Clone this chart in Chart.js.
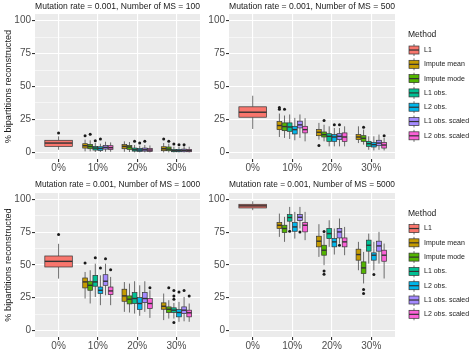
<!DOCTYPE html>
<html><head><meta charset="utf-8">
<script src="https://cdn.jsdelivr.net/npm/chart.js@4.4.1/dist/chart.umd.min.js"></script>
<style>
html,body{margin:0;padding:0;background:#fff;width:474px;height:355px;overflow:hidden;}
canvas{position:absolute;display:block;}
</style></head><body>
<canvas id="c0" width="204" height="177" style="left:0;top:0"></canvas>
<canvas id="c1" width="270" height="177" style="left:204px;top:0"></canvas>
<canvas id="c2" width="204" height="178" style="left:0;top:177px"></canvas>
<canvas id="c3" width="270" height="178" style="left:204px;top:177px"></canvas>
<script>
// ---------- DATA ----------
const categories = ['0%', '10%', '20%', '30%'];
const methods = ['L1', 'Impute mean', 'Impute mode', 'L1 obs.', 'L2 obs.', 'L1 obs. scaled', 'L2 obs. scaled'];
const panelTitles = [
  'Mutation rate = 0.001, Number of MS = 100',
  'Mutation rate = 0.001, Number of MS = 500',
  'Mutation rate = 0.001, Number of MS = 1000',
  'Mutation rate = 0.001, Number of MS = 5000'
];
const yTicks = [0, 25, 50, 75, 100];
const yAxisTitle = '% bipartitions reconstructed';
const legendTitle = 'Method';

// box stats per method (rows) and category (cols): [lower whisker, Q1, median, Q3, upper whisker]
const boxesMS100 = [
  [[2, 4.6, 7.1, 9.2, 12.2], null, null, null],
  [null, [0.8, 3.3, 5.1, 6.6, 9.7], [0.5, 2.8, 4.6, 5.9, 8.4], [0, 1.3, 2.8, 4.3, 7.1]],
  [null, [0.8, 2.8, 4.5, 6.1, 9.2], [0.3, 2.3, 4.1, 5.3, 7.9], [0, 1.3, 2.5, 4.1, 6.6]],
  [null, [0.3, 1.8, 3.3, 4.6, 7.1], [0, 1.0, 2.0, 3.3, 5.6], [0, 0.5, 1.3, 2.3, 4.3]],
  [null, [0.3, 1.5, 3.0, 4.3, 6.6], [0, 0.8, 1.8, 3.0, 5.1], [0, 0.5, 1.3, 2.3, 4.1]],
  [null, [0.5, 2.5, 3.8, 5.3, 8.1], [0, 1.0, 2.0, 3.3, 5.6], [0, 0.5, 1.5, 2.5, 4.6]],
  [null, [0.5, 2.3, 3.6, 5.1, 7.6], [0, 0.8, 1.8, 3.0, 5.3], [0, 0.5, 1.3, 2.3, 4.3]]
];
const outliersMS100 = [
  [[14.8], [], [], []],
  [[], [12.7], [], [10.2]],
  [[], [13.7], [], [8.4]],
  [[], [8.9], [8.4], [6.4]],
  [[], [10.2], [7.1], [5.9]],
  [[], [], [8.4], [5.9]],
  [[], [], [], []]
];

const boxesMS500 = [
  [[17.8, 26.7, 30.5, 34.6, 43], null, null, null],
  [null, [11.7, 17.3, 20.4, 23.4, 29.5], [9.7, 12.7, 15.3, 17.3, 22.4], [7.1, 9.7, 11.7, 13.5, 19.8]],
  [null, [11, 16.5, 19.6, 22.4, 28], [8.4, 11.7, 13.5, 15.5, 21], [5.9, 8.4, 10.7, 12.7, 17.3]],
  [null, [10.2, 16, 19.3, 22.4, 28.8], [4.6, 8.4, 12.2, 14.2, 19.8], [2, 4.6, 6.6, 8.4, 12.2]],
  [null, [9.2, 14, 17.3, 19.8, 26.2], [4.6, 8.4, 11.7, 13.5, 18.5], [1.5, 4.1, 5.9, 7.6, 12.2]],
  [null, [11, 18.6, 20.9, 23.7, 28.8], [4.6, 9.7, 12.2, 14.2, 18.5], [2, 5.1, 7.1, 9.2, 13.5]],
  [null, [8.4, 14.8, 17.3, 19.8, 26], [4.6, 8.4, 11.7, 14.8, 19.8], [1.5, 3.3, 5.6, 7.6, 11]]
];
const outliersMS500 = [
  [[], [], [], []],
  [[], [34.1, 32.8], [5.3], []],
  [[], [32.8], [24.2], [19]],
  [[], [], [], []],
  [[], [], [20.9], []],
  [[], [], [20.9], []],
  [[], [], [], [12.7]]
];

const boxesMS1000 = [
  [[39.6, 48.5, 52.8, 56.9, 66.2], null, null, null],
  [null, [24.4, 32.5, 37.1, 40.1, 44.7], [14.2, 22.3, 26.4, 31.5, 37], [7.9, 16.2, 18.5, 21.1, 28.2]],
  [null, [20.6, 30.7, 34.5, 37.6, 46], [13.7, 20.3, 23.9, 26.4, 35.8], [9.1, 13.7, 16.2, 18, 23.1]],
  [null, [25.6, 33.8, 37.1, 42.1, 51], [12.9, 20.6, 24.4, 28.9, 37.6], [9.1, 13.7, 15.5, 17.3, 21]],
  [null, [19.3, 28.2, 30.7, 33.2, 42.1], [11.2, 16, 20.6, 25.1, 34.5], [6.6, 10.4, 13.7, 16, 21.8]],
  [null, [26.9, 34.5, 37.6, 42.6, 51], [14.2, 21.3, 24.4, 28.9, 37.6], [7, 12.9, 15.5, 18, 25.6]],
  [null, [19.3, 27.4, 30.2, 33.2, 40.9], [9.6, 16.8, 20.6, 24.4, 30.7], [6.6, 10.4, 13.5, 15.5, 20.6]]
];
const outliersMS1000 = [
  [[73.4], [], [], []],
  [[], [51.5], [], []],
  [[], [], [], [32.7]],
  [[], [55.6], [], [30.5, 26.4, 23.8, 6.1]],
  [[], [47.7], [], [29.4]],
  [[], [54.8], [], [30.5]],
  [[], [46.4], [32.7], [26.4]]
];

const boxesMS5000 = [
  [[91.9, 93.6, 95.2, 96.4, 98.7], null, null, null],
  [null, [71.5, 77.9, 80.4, 82.4, 89.3], [56.2, 63.9, 68.2, 72, 81.2], [46, 53.7, 58, 62.1, 67.7]],
  [null, [67.7, 74.8, 77.9, 80.4, 86.8], [49.9, 57.5, 61.3, 65.1, 74], [35.9, 43.5, 47.8, 52.4, 60]],
  [null, [77.1, 83.5, 86.3, 88.5, 94.4], [63.9, 70.2, 74, 77.9, 84.2], [51.1, 60.6, 65.1, 69, 74]],
  [null, [70.2, 75.8, 79.1, 82.4, 90.6], [58, 63.9, 67.7, 70.2, 77.9], [46, 53.7, 57.5, 59.3, 67.7]],
  [null, [77.9, 84, 86.5, 88.5, 94.4], [66.4, 70.7, 75.3, 77.9, 85.5], [51.1, 60.6, 64.6, 68.2, 75.3]],
  [null, [69, 75.3, 80.4, 82.4, 90.6], [57.5, 63.9, 67.7, 70.7, 79.1], [39.7, 52.9, 57.5, 61.3, 66.4]]
];
const outliersMS5000 = [
  [[], [], [], []],
  [[], [], [], []],
  [[], [], [75.6, 45.5, 43], [31.3, 28.2]],
  [[], [75.8], [], []],
  [[], [], [], [42.7]],
  [[], [75.3], [65.2], []],
  [[], [], [], []]
];

// ---------- STYLE ----------
const methodColors = ['#F8766D', '#C49A00', '#53B400', '#00C094', '#00B6EB', '#A58AFF', '#FB61D7'];
const FONT = '"Liberation Sans", Arial, Helvetica, sans-serif';
Chart.defaults.font.family = FONT;
const LINE = '#333333';

// dodge layout helper: position and width of a method's box within a category
function dodge(stats, m, c) {
  const present = [];
  stats.forEach((row, i) => { if (row[c]) present.push(i); });
  const n = present.length;
  const k = present.indexOf(m);
  if (n <= 1) return { x: c + 1, w: 0.7 };
  const slot = 0.78 / n;
  return { x: c + 1 + (k - (n - 1) / 2) * slot, w: slot * 0.92 };
}

function makeBoxPlugin(stats) {
  return {
    id: 'boxes',
    beforeDraw(chart) {
      const { ctx, chartArea: a } = chart;
      ctx.save();
      ctx.fillStyle = '#EBEBEB';
      ctx.fillRect(a.left, a.top, a.right - a.left, a.bottom - a.top);
      ctx.restore();
    },
    beforeDatasetsDraw(chart) {
      const { ctx } = chart;
      const xs = chart.scales.x, ys = chart.scales.y;
      ctx.save();
      stats.forEach((row, m) => {
        row.forEach((s, c) => {
          if (!s) return;
          const d = dodge(stats, m, c);
          const xc = xs.getPixelForValue(d.x);
          const x0 = xs.getPixelForValue(d.x - d.w / 2);
          const x1 = xs.getPixelForValue(d.x + d.w / 2);
          const [lo, q1, med, q3, hi] = s.map(v => ys.getPixelForValue(v));
          ctx.strokeStyle = LINE;
          ctx.lineWidth = 0.7;
          ctx.beginPath();
          ctx.moveTo(xc, hi); ctx.lineTo(xc, q3);
          ctx.moveTo(xc, q1); ctx.lineTo(xc, lo);
          ctx.stroke();
          ctx.fillStyle = methodColors[m];
          ctx.fillRect(x0, q3, x1 - x0, q1 - q3);
          ctx.strokeRect(x0, q3, x1 - x0, q1 - q3);
          ctx.lineWidth = 1.4;
          ctx.beginPath();
          ctx.moveTo(x0, med); ctx.lineTo(x1, med);
          ctx.stroke();
        });
      });
      ctx.restore();
    }
  };
}

const legendPlugin = {
  id: 'ggLegend',
  afterDraw(chart) {
    const { ctx, chartArea: a } = chart;
    const cy = (a.top + a.bottom) / 2;
    const x0 = a.right + 14;
    ctx.save();
    ctx.fillStyle = '#1a1a1a';
    ctx.font = '8.5px ' + FONT;
    ctx.textBaseline = 'middle';
    ctx.textAlign = 'left';
    ctx.fillText(legendTitle, x0 - 1, cy - 51.5);
    methods.forEach((name, i) => {
      const y = cy - 36.5 + i * 14.3;
      const kx = x0 + 5;
      ctx.strokeStyle = LINE;
      ctx.lineWidth = 0.7;
      ctx.beginPath();
      ctx.moveTo(kx, y - 6); ctx.lineTo(kx, y + 6);
      ctx.stroke();
      ctx.fillStyle = methodColors[i];
      ctx.fillRect(x0, y - 4, 10, 8);
      ctx.strokeRect(x0, y - 4, 10, 8);
      ctx.lineWidth = 1.2;
      ctx.beginPath();
      ctx.moveTo(x0, y); ctx.lineTo(x0 + 10, y);
      ctx.stroke();
      ctx.fillStyle = '#1a1a1a';
      ctx.font = '7px ' + FONT;
      ctx.fillText(name, x0 + 15, y);
    });
    ctx.restore();
  }
};

const yAll = [];
yTicks.forEach((v, i) => { yAll.push(v); if (i < yTicks.length - 1) yAll.push((v + yTicks[i + 1]) / 2); });

function makePanel(id, idx, stats, outliers, isLeft, isTop) {
  const datasets = methods.map((name, m) => {
    const pts = [];
    outliers[m].forEach((vals, c) => {
      vals.forEach(v => pts.push({ x: dodge(stats, m, c).x, y: v }));
    });
    return {
      label: name, data: pts, showLine: false,
      pointRadius: 1.5, pointBackgroundColor: '#1a1a1a', pointBorderWidth: 0,
      backgroundColor: methodColors[m]
    };
  });
  const isMajor = v => yTicks.includes(v);
  const plugins = [makeBoxPlugin(stats)];
  if (!isLeft) plugins.push(legendPlugin);
  return new Chart(document.getElementById(id), {
    type: 'scatter',
    data: { datasets },
    plugins,
    options: {
      responsive: false, animation: false, devicePixelRatio: 1,
      layout: { padding: { left: 0, right: isLeft ? 2 : 79, top: 0, bottom: 0 } },
      plugins: {
        legend: { display: false },
        tooltip: { enabled: false },
        title: {
          display: true, text: panelTitles[idx], fullSize: false, color: '#1a1a1a',
          font: { size: 9.2, weight: 'normal', family: FONT },
          padding: isTop ? { top: 1, bottom: 2 } : { top: 2, bottom: 3 }
        }
      },
      scales: {
        x: {
          type: 'linear', min: 0.4, max: 4.6,
          afterBuildTicks: s => { s.ticks = categories.map((c, i) => ({ value: i + 1 })); },
          afterFit: s => { s.height = 18; },
          ticks: {
            callback: (v, i) => categories[i], autoSkip: false, maxRotation: 0,
            padding: 0, color: '#4D4D4D', font: { size: 10, family: FONT }
          },
          grid: { color: '#FFFFFF', lineWidth: 1.1, tickLength: 3, tickColor: LINE },
          border: { display: false }
        },
        y: {
          min: -5, max: 105,
          afterBuildTicks: s => { s.ticks = yAll.map(v => ({ value: v })); },
          afterFit: s => { s.width = isLeft ? 35 : 25; },
          ticks: {
            callback: v => isMajor(v) ? String(v) : '', autoSkip: false,
            padding: 1, color: '#4D4D4D', font: { size: 10, family: FONT }
          },
          grid: {
            color: '#FFFFFF',
            lineWidth: c => isMajor(c.tick.value) ? 1.1 : 0.55,
            tickLength: 3,
            tickColor: c => isMajor(c.tick.value) ? LINE : 'rgba(0,0,0,0)'
          },
          border: { display: false },
          title: {
            display: isLeft, text: yAxisTitle, color: '#1a1a1a',
            font: { size: 9.2, family: FONT }, padding: { top: 3, bottom: 0 }
          }
        }
      }
    }
  });
}

makePanel('c0', 0, boxesMS100, outliersMS100, true, true);
makePanel('c1', 1, boxesMS500, outliersMS500, false, true);
makePanel('c2', 2, boxesMS1000, outliersMS1000, true, false);
makePanel('c3', 3, boxesMS5000, outliersMS5000, false, false);
</script>
</body></html>
